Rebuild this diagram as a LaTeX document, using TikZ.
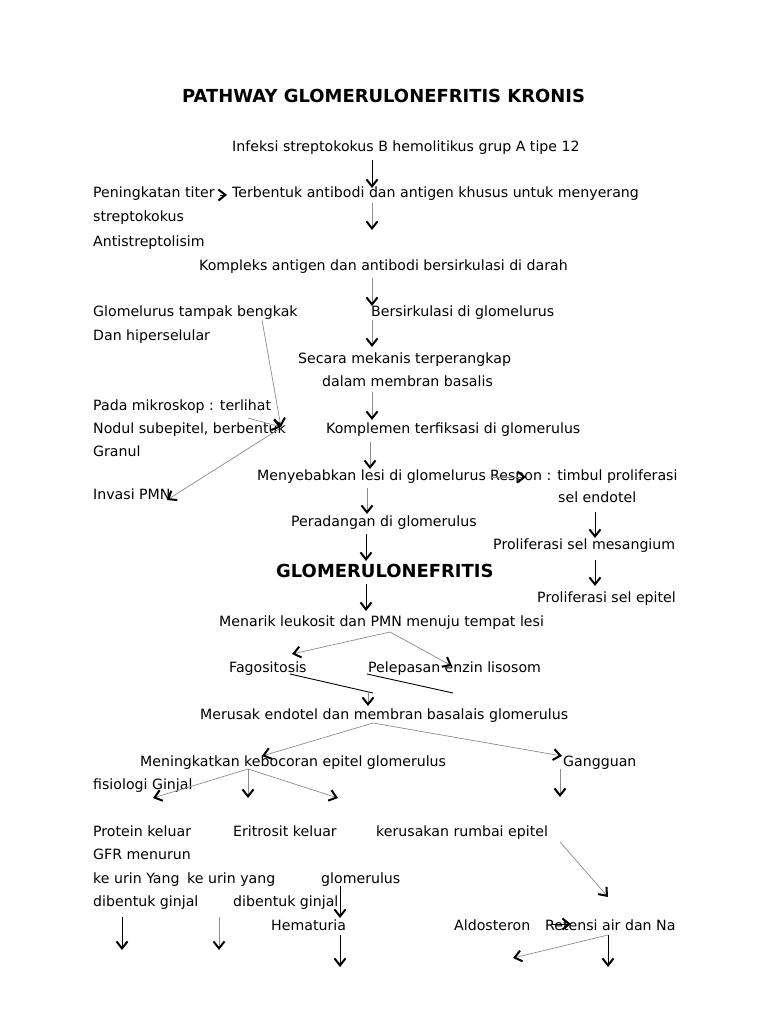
\documentclass[tikz,border=0pt]{standalone}
\usepackage{fontspec}
\setmainfont{DejaVu Sans}
\usetikzlibrary{arrows.meta}
\newcommand\bodyf{\fontsize{14.15pt}{17pt}\selectfont}
\newcommand\titlef{\fontsize{17.95pt}{21pt}\selectfont\bfseries}
\tikzset{
  txt/.style={anchor=base west, inner sep=0pt, font=\bodyf},
  ttl/.style={anchor=base west, inner sep=0pt, font=\titlef},
  hd/.style={-{Straight Barb[length=7pt,width=11pt,line width=2pt,color=black]}},
  arr/.style={hd, draw=black, line width=0.9pt},
  garr/.style={hd, draw=black!45, line width=0.7pt},
  bline/.style={draw=black, line width=0.9pt},
}
\begin{document}
\begin{tikzpicture}[x=1pt,y=-1pt]
\useasboundingbox[fill=white] (0,0) rectangle (768,1024);
% texts
\node[ttl] (title) at (182,103) {PATHWAY GLOMERULONEFRITIS KRONIS};
\node[txt] (t1) at (232,152) {Infeksi streptokokus B hemolitikus grup A tipe 12};
\node[txt] (t2) at (93,198) {Peningkatan titer};
\node[txt] (t3) at (232,198) {Terbentuk antibodi dan antigen khusus untuk menyerang};
\node[txt] (t4) at (93,222) {streptokokus};
\node[txt] (t5) at (93,246) {Antistreptolisim};
\node[txt] (t6) at (199,270) {Kompleks antigen dan antibodi bersirkulasi di darah};
\node[txt] (t7) at (93,316) {Glomelurus tampak bengkak};
\node[txt] (t8) at (371,316) {Bersirkulasi di glomelurus};
\node[txt] (t9) at (93,340) {Dan hiperselular};
\node[txt] (t10) at (298,363) {Secara mekanis terperangkap};
\node[txt] (t11) at (322,386) {dalam membran basalis};
\node[txt] (t12) at (93,410) {Pada mikroskop : terlihat};
\node[txt] (t13) at (93,433) {Nodul subepitel, berbentuk};
\node[txt] (t14) at (326,433) {Komplemen terfiksasi di glomerulus};
\node[txt] (t15) at (93,456) {Granul};
\node[txt] (t16) at (257,480) {Menyebabkan lesi di glomelurus};
\node[txt] (t17) at (490,480) {Respon : timbul proliferasi};
\node[txt] (t18) at (93,499) {Invasi PMN};
\node[txt] (t19) at (558,502) {sel endotel};
\node[txt] (t20) at (291,526) {Peradangan di glomerulus};
\node[txt] (t21) at (493,549) {Proliferasi sel mesangium};
\node[ttl] (t22) at (276,577) {GLOMERULONEFRITIS};
\node[txt] (t23) at (537,602) {Proliferasi sel epitel};
\node[txt] (t24) at (219,626) {Menarik leukosit dan PMN menuju tempat lesi};
\node[txt] (t25) at (229,672) {Fagositosis};
\node[txt] (t26) at (368,672) {Pelepasan enzin lisosom};
\node[txt] (t27) at (200,719) {Merusak endotel dan membran basalais glomerulus};
\node[txt] (t28) at (140,766) {Meningkatkan kebocoran epitel glomerulus};
\node[txt] (t29) at (563,766) {Gangguan};
\node[txt] (t30) at (93,789) {fisiologi Ginjal};
\node[txt] (t31) at (93,836) {Protein keluar};
\node[txt] (t32) at (233,836) {Eritrosit keluar};
\node[txt] (t33) at (376,836) {kerusakan rumbai epitel};
\node[txt] (t34) at (93,859) {GFR menurun};
\node[txt] (t35) at (93,883) {ke urin Yang};
\node[txt] (t36) at (187,883) {ke urin yang};
\node[txt] (t37) at (321,883) {glomerulus};
\node[txt] (t38) at (93,906) {dibentuk ginjal};
\node[txt] (t39) at (233,906) {dibentuk ginjal};
\node[txt] (t40) at (271,930) {Hematuria};
\node[txt] (t41) at (454,930) {Aldosteron};
\node[txt] (t42) at (545,930) {Retensi air dan Na};
% connector points
\coordinate (a1s) at (372,160); \coordinate (a1e) at (372,188);
\coordinate (pts) at (220,195); \coordinate (pte) at (227,195);
\coordinate (a2s) at (372,203); \coordinate (a2e) at (372,230);
\coordinate (a3s) at (372,278); \coordinate (a3e) at (372,306);
\coordinate (a4s) at (372,320); \coordinate (a4e) at (372,347);
\coordinate (a5s) at (372,392); \coordinate (a5e) at (372,420);
\coordinate (gbs) at (262,320); \coordinate (gbe) at (281,427);
\coordinate (pms) at (248,418); \coordinate (pme) at (281,427);
\coordinate (ips) at (279,429); \coordinate (ipe) at (167,500);
\coordinate (a6s) at (370,442); \coordinate (a6e) at (370,469);
\coordinate (rss) at (492,477); \coordinate (rse) at (526,477);
\coordinate (a7s) at (367,488); \coordinate (a7e) at (367,514);
\coordinate (ens) at (595,512); \coordinate (ene) at (595,538);
\coordinate (a8s) at (366,534); \coordinate (a8e) at (366,561);
\coordinate (mss) at (595,560); \coordinate (mse) at (595,586);
\coordinate (a9s) at (366,584); \coordinate (a9e) at (366,611);
\coordinate (mf) at (390,632); \coordinate (mfl) at (292,654); \coordinate (mfr) at (452,666);
\coordinate (d1s) at (290,674); \coordinate (d1e) at (373,693);
\coordinate (d2s) at (367,674); \coordinate (d2e) at (453,693);
\coordinate (svs) at (368,693); \coordinate (sve) at (368,706);
\coordinate (rf) at (373,723); \coordinate (rfl) at (262,756); \coordinate (rfr) at (562,756);
\coordinate (kf) at (248,769); \coordinate (kfl) at (153,798); \coordinate (kfm) at (248,798); \coordinate (kfr) at (338,798);
\coordinate (ggs) at (560,769); \coordinate (gge) at (560,797);
\coordinate (krs) at (560,842); \coordinate (kre) at (608,897);
\coordinate (hms) at (340,886); \coordinate (hme) at (340,918);
\coordinate (b1s) at (122,917); \coordinate (b1e) at (122,950);
\coordinate (b2s) at (219,917); \coordinate (b2e) at (219,950);
\coordinate (b3s) at (340,935); \coordinate (b3e) at (340,967);
\coordinate (als) at (552,924); \coordinate (ale) at (571,924);
\coordinate (tf) at (608,935); \coordinate (tfl) at (513,958); \coordinate (tfm) at (608,967);
% connectors
\draw[arr] (a1s) -- (a1e);
\draw[arr] (pts) -- (pte);
\draw[garr] (a2s) -- (a2e);
\draw[garr] (a3s) -- (a3e);
\draw[garr] (a4s) -- (a4e);
\draw[garr] (a5s) -- (a5e);
\draw[garr] (gbs) -- (gbe);
\draw[garr] (pms) -- (pme);
\draw[garr] (ips) -- (ipe);
\draw[garr] (a6s) -- (a6e);
\draw[garr] (rss) -- (rse);
\draw[garr] (a7s) -- (a7e);
\draw[arr] (ens) -- (ene);
\draw[arr] (a8s) -- (a8e);
\draw[arr] (mss) -- (mse);
\draw[arr] (a9s) -- (a9e);
\draw[garr] (mf) -- (mfl);
\draw[garr] (mf) -- (mfr);
\draw[bline] (d1s) -- (d1e);
\draw[bline] (d2s) -- (d2e);
\draw[garr] (svs) -- (sve);
\draw[garr] (rf) -- (rfl);
\draw[garr] (rf) -- (rfr);
\draw[garr] (kf) -- (kfl);
\draw[garr] (kf) -- (kfm);
\draw[garr] (kf) -- (kfr);
\draw[garr] (ggs) -- (gge);
\draw[garr] (krs) -- (kre);
\draw[arr] (hms) -- (hme);
\draw[arr] (b1s) -- (b1e);
\draw[garr] (b2s) -- (b2e);
\draw[arr] (b3s) -- (b3e);
\draw[arr] (als) -- (ale);
\draw[garr] (tf) -- (tfl);
\draw[arr] (tf) -- (tfm);
\end{tikzpicture}
\end{document}
